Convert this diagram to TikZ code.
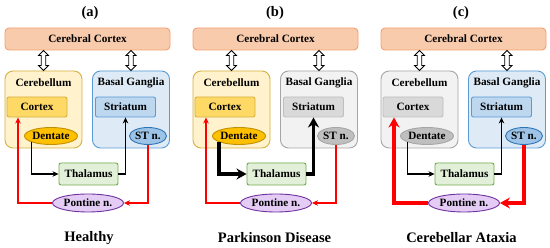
\documentclass[tikz,border=0pt]{standalone}
\usepackage{fontspec}
\setmainfont{Liberation Serif}
\usetikzlibrary{arrows.meta,shapes.geometric,shapes.arrows,calc}
\definecolor{ccfill}{HTML}{F8CBAD}
\definecolor{ccdraw}{HTML}{F4A070}
\definecolor{ylwfill}{HTML}{FFF2CC}
\definecolor{ylwdraw}{HTML}{D6B040}
\definecolor{ylwin}{HTML}{FFD966}
\definecolor{ylwell}{HTML}{FFC000}
\definecolor{ylwelld}{HTML}{BF9000}
\definecolor{blufill}{HTML}{DEEBF7}
\definecolor{bludraw}{HTML}{5B9BD5}
\definecolor{bluin}{HTML}{BDD7EE}
\definecolor{bluell}{HTML}{9DC3E6}
\definecolor{bluelld}{HTML}{2E75B6}
\definecolor{gryfill}{HTML}{F2F2F2}
\definecolor{grydraw}{HTML}{A6A6A6}
\definecolor{gryin}{HTML}{D9D9D9}
\definecolor{gryell}{HTML}{BFBFBF}
\definecolor{thfill}{HTML}{E2F0D9}
\definecolor{thdraw}{HTML}{70AD47}
\definecolor{pnfill}{HTML}{E4CCF5}
\definecolor{pndraw}{HTML}{7030A0}
\definecolor{arrred}{HTML}{FF0000}
\tikzset{
  txt/.style={font=\bfseries\fontsize{11.2}{13}\selectfont, text=black},
  ccbox/.style={txt, draw=ccdraw, fill=ccfill, line width=0.9pt, rounded corners=4pt, minimum width=165pt, minimum height=22pt, inner sep=0pt},
  bigbox/.style={line width=0.9pt, rounded corners=8pt, minimum width=77pt, minimum height=77pt, inner sep=0pt},
  inbox/.style={txt, line width=0.9pt, rounded corners=2pt, minimum width=60pt, minimum height=20pt, inner sep=0pt},
  ellnode/.style={txt, ellipse, line width=0.9pt, minimum height=17pt, inner sep=0pt},
  lbl/.style={txt, inner sep=0pt},
  yellowbox/.style={bigbox, draw=ylwdraw, fill=ylwfill},
  yellowin/.style={inbox, draw=ylwdraw, fill=ylwin},
  yellowell/.style={ellnode, draw=ylwelld, fill=ylwell},
  bluebox/.style={bigbox, draw=bludraw, fill=blufill},
  bluein/.style={inbox, draw=bludraw, fill=bluin},
  blueell/.style={ellnode, draw=bluelld, fill=bluell},
  graybox/.style={bigbox, draw=grydraw, fill=gryfill},
  grayin/.style={inbox, draw=gryell, fill=gryin},
  grayell/.style={ellnode, draw=grydraw, fill=gryell},
  thbox/.style={txt, draw=thdraw, fill=thfill, line width=0.9pt, rounded corners=2pt, minimum width=59pt, minimum height=22pt, inner sep=0pt},
  pnell/.style={ellnode, draw=pndraw, fill=pnfill, minimum width=71pt, minimum height=18pt},
  dblarrow/.style={double arrow, rotate=90, draw=black, fill=white, line width=0.8pt, minimum height=20pt, inner sep=1.8pt, double arrow head extend=2.8pt},
  thinblk/.style={draw=black, line width=1.2pt, -{Stealth[length=6pt,width=5.5pt]}},
  thickblk/.style={draw=black, line width=3.5pt, line join=miter, -{Stealth[length=10pt,width=11pt]}},
  thinred/.style={draw=arrred, line width=1.2pt, -{Stealth[length=6pt,width=5.5pt]}},
  thickred/.style={draw=arrred, line width=3.8pt, line join=miter, -{Stealth[length=10pt,width=11pt]}},
  ttl/.style={font=\bfseries\fontsize{14.5}{16}\selectfont, inner sep=0pt}
}
\newcommand\brainpanel[1]{%
  \node[ccbox] (#1cc) at (87.5,39) {Cerebral Cortex};
  \node[cbstyle] (#1cb) at (43.5,109.5) {};
  \node[lbl] (#1cbl) at (43.5,83) {Cerebellum};
  \node[bgstyle] (#1bg) at (131,109.5) {};
  \node[lbl] (#1bgl) at (131,83) {Basal Ganglia};
  \node[cbinstyle] (#1cx) at (37,107) {Cortex};
  \node[bginstyle] (#1st) at (125.5,107) {Striatum};
  \node[cbellstyle, minimum width=53pt] (#1dn) at (51,136) {Dentate};
  \node[bgellstyle, minimum width=37pt] (#1sn) at (148,136) {ST n.};
  \node[thbox] (#1th) at (88.5,174) {Thalamus};
  \node[pnell] (#1pn) at (88,203) {Pontine n.};
  \node[dblarrow] (#1da) at (43.5,60.5) {};
  \node[dblarrow] (#1db) at (131,60.5) {};
  \coordinate (#1pl) at (18,203);
  \draw[blkstyle] (#1dn.197) |- (#1th.west);
  \draw[blkstyle] (#1th.east) -| (#1st.south);
  \draw[redstyle] (#1sn.south) |- (#1pn.east);
  \draw[redstyle] (#1pn.west) -- (#1pl) -- (#1pl |- #1cx.south);
}
\begin{document}
\begin{tikzpicture}[x=1pt, y=-1pt]
\useasboundingbox[fill=white] (0,0) rectangle (550,248);
\begin{scope}[cbstyle/.style={yellowbox}, cbinstyle/.style={yellowin}, cbellstyle/.style={yellowell},
  bgstyle/.style={bluebox}, bginstyle/.style={bluein}, bgellstyle/.style={blueell},
  blkstyle/.style={thinblk}, redstyle/.style={thinred}]
  \brainpanel{a}
\end{scope}
\begin{scope}[xshift=188pt, cbstyle/.style={yellowbox}, cbinstyle/.style={yellowin}, cbellstyle/.style={yellowell},
  bgstyle/.style={graybox}, bginstyle/.style={grayin}, bgellstyle/.style={grayell},
  blkstyle/.style={thickblk}, redstyle/.style={thinred}]
  \brainpanel{b}
\end{scope}
\begin{scope}[xshift=376pt, cbstyle/.style={graybox}, cbinstyle/.style={grayin}, cbellstyle/.style={grayell},
  bgstyle/.style={bluebox}, bginstyle/.style={bluein}, bgellstyle/.style={blueell},
  blkstyle/.style={thinblk}, redstyle/.style={thickred}]
  \brainpanel{c}
\end{scope}
\node[ttl] (ta) at (90,13) {(a)};
\node[ttl] (tb) at (275,13) {(b)};
\node[ttl] (tc) at (461,13) {(c)};
\node[ttl] (la) at (89,238) {Healthy};
\node[ttl] (lb) at (274.5,238) {Parkinson Disease};
\node[ttl] (lc) at (461.5,238) {Cerebellar Ataxia};
\end{tikzpicture}
\end{document}
